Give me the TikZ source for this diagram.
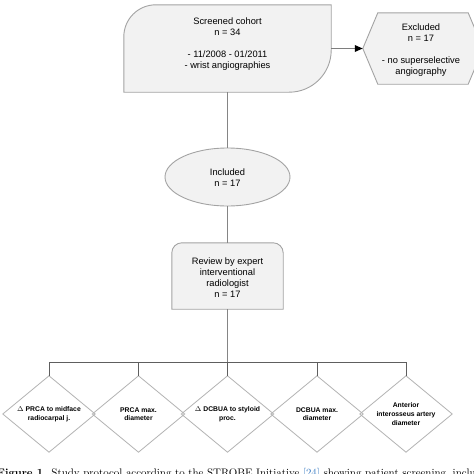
\documentclass[tikz,border=0pt]{standalone}
\usepackage{fontspec}
\newfontfamily\diagfont{Liberation Sans}
\usetikzlibrary{arrows.meta,calc,shapes.geometric}
\definecolor{boxfill}{HTML}{F2F2F2}
\definecolor{boxline}{HTML}{A3A3A3}
\definecolor{connline}{HTML}{858585}
\definecolor{barline}{HTML}{5E5E5E}
\definecolor{dialine}{HTML}{B3B3B3}
\definecolor{linkblue}{HTML}{3B7DC4}
\tikzset{
  boxtext/.style={align=center,inner sep=0pt,font=\diagfont\fontsize{9.3}{11}\selectfont},
  frame/.style={draw=boxline,fill=boxfill,line width=0.9pt},
  holder/.style={draw=none,inner sep=0pt,rectangle},
  conn/.style={draw=connline,line width=1.7pt},
  barconn/.style={draw=barline,line width=1pt},
  diatext/.style={align=center,inner sep=0pt,font=\diagfont\bfseries\fontsize{6.8}{8.6}\selectfont},
  diaframe/.style={draw=dialine,line width=0.8pt},
  captext/.style={inner sep=0pt,font=\rmfamily\fontsize{10.9}{12}\selectfont}
}
\begin{document}
\begin{tikzpicture}[x=1pt,y=-1pt]
\useasboundingbox (0,0) rectangle (474,474);
\clip (0,0) rectangle (474,474);
\fill[white] (0,0) rectangle (474,474);

% Screened cohort box
\node[holder,minimum width=207pt,minimum height=87pt] (sc) at (227.5,48.5) {};
\draw[frame] (sc.south west) -- ($(sc.north west)+(0,32)$)
  .. controls ($(sc.north west)+(0,14.3)$) and ($(sc.north west)+(14.3,0)$) .. ($(sc.north west)+(32,0)$)
  -- (sc.north east) -- ($(sc.south east)+(0,-42)$)
  .. controls ($(sc.south east)+(0,-18.8)$) and ($(sc.south east)+(-18.8,0)$) .. ($(sc.south east)+(-42,0)$)
  -- cycle;
\node[boxtext] (sctext) at (227.5,44.5) {Screened cohort\\ n = 34\\[11pt] - 11/2008 - 01/2011\\ - wrist angiographies};

% Excluded hexagon
\node[holder,minimum width=120pt,minimum height=71pt] (ex) at (423,48.5) {};
\draw[frame] (ex.west) -- ($(ex.north west)+(15,0)$) -- ($(ex.north east)+(-15,0)$)
  -- (ex.east) -- ($(ex.south east)+(-15,0)$) -- ($(ex.south west)+(15,0)$) -- cycle;
\node[boxtext] (extext) at (421,50) {Excluded\\ n = 17\\[11pt] - no superselective\\ angiography};

% Included ellipse
\node[frame,ellipse,inner sep=0pt,minimum width=125pt,minimum height=58pt] (inc) at (227.5,177) {};
\node[boxtext] (inctext) at (227.5,178) {Included\\ n = 17};

% Review box
\node[holder,minimum width=111pt,minimum height=66pt] (rev) at (227.5,276) {};
\draw[frame] (rev.south west) -- ($(rev.north west)+(0,10)$)
  .. controls ($(rev.north west)+(0,4.5)$) and ($(rev.north west)+(4.5,0)$) .. ($(rev.north west)+(10,0)$)
  -- ($(rev.north east)+(-10,0)$)
  .. controls ($(rev.north east)+(-4.5,0)$) and ($(rev.north east)+(0,4.5)$) .. ($(rev.north east)+(0,10)$)
  -- (rev.south east) -- cycle;
\node[boxtext] (revtext) at (227.5,278) {Review by expert\\ interventional\\ radiologist\\ n = 17};

% Diamonds
\foreach \n/\x in {d1/49,d2/138.5,d3/227.5,d4/317,d5/406}{
  \node[holder,minimum width=92pt,minimum height=76pt] (\n) at (\x,414) {};
  \draw[diaframe] (\n.north) -- (\n.east) -- (\n.south) -- (\n.west) -- cycle;
}
\node[diatext] (t1) at (d1) {$\Delta$ PRCA to midface\\ radiocarpal j.};
\node[diatext] (t2) at (d2) {PRCA max.\\ diameter};
\node[diatext] (t3) at (d3) {$\Delta$ DCBUA to styloid\\ proc.};
\node[diatext] (t4) at (d4) {DCBUA max.\\ diameter};
\node[diatext] (t5) at (d5) {Anterior\\ interosseus artery\\ diameter};

% Connectors
\draw[conn] (sc.south) -- (inc.north);
\draw[conn] (inc.south) -- (rev.north);
\draw[conn,draw=barline!80,-{Triangle[length=8pt,width=6.5pt,color=black]}] (sc.east) -- (ex.west);
\coordinate (bar) at (227.5,362);
\draw[conn] (rev.south) -- (bar);
\foreach \n in {d1,d2,d3,d4,d5}{
  \draw[barconn] (bar) -| (\n.north);
}

% Caption
\node[captext,anchor=base west] (cap) at (-3,476) {\textbf{Figure 1.} Study protocol according to the STROBE Initiative {\color{linkblue}[24]} showing patient screening, inclusion};
\end{tikzpicture}
\end{document}
